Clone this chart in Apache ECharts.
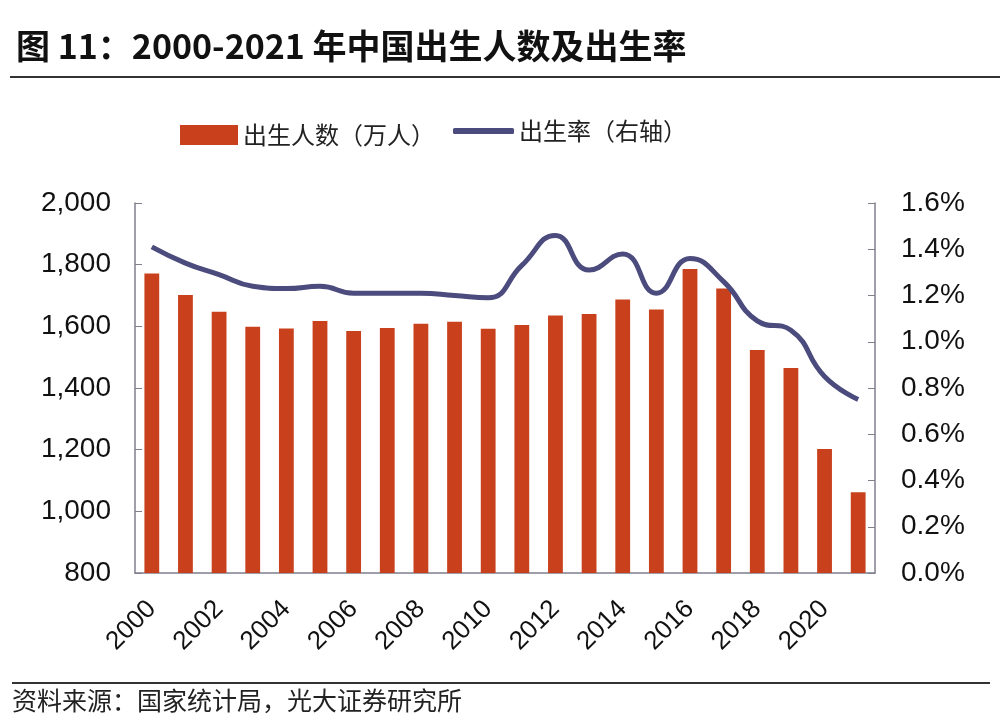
<!DOCTYPE html>
<html>
<head>
<meta charset="utf-8">
<script src="https://cdn.jsdelivr.net/npm/echarts@6/dist/echarts.min.js"></script>
<style>
  html, body { margin: 0; padding: 0; background: #fff; }
  #chart { width: 1000px; height: 724px; }
</style>
</head>
<body>
<div id="chart"></div>
<script>
// 年份
const years = ['2000', '2001', '2002', '2003', '2004', '2005', '2006', '2007', '2008', '2009', '2010',
  '2011', '2012', '2013', '2014', '2015', '2016', '2017', '2018', '2019', '2020', '2021']
// 出生人数（万人）
const births = [1771, 1702, 1647, 1599, 1593, 1617, 1585, 1595, 1608, 1615, 1592,
  1604, 1635, 1640, 1687, 1655, 1786, 1723, 1523, 1465, 1202, 1062]
// 出生率（%）
const birthRate = [1.41, 1.34, 1.29, 1.24, 1.23, 1.24, 1.21, 1.21, 1.21, 1.20, 1.19,
  1.33, 1.46, 1.31, 1.38, 1.21, 1.36, 1.26, 1.09, 1.05, 0.85, 0.75]

const font = '"Liberation Sans", Arial, "Noto Sans CJK SC", sans-serif'
const cjk = '"Noto Sans CJK SC", sans-serif'
const axisColor = '#7f7f8c'
const barColor = '#c9401d'
const lineColor = '#4b4b7d'

const chart = echarts.init(document.getElementById('chart'))
chart.setOption({
  animation: false,
  textStyle: { fontFamily: font },
  title: {
    text: '图 11：2000-2021 年中国出生人数及出生率',
    left: 11,
    top: 24,
    textStyle: { fontSize: 34, fontWeight: 'bold', color: '#111', fontFamily: cjk }
  },
  graphic: [
    { type: 'line', shape: { x1: 10, y1: 77, x2: 1000, y2: 77 }, style: { stroke: '#333', lineWidth: 2 } },
    { type: 'line', shape: { x1: 12, y1: 683, x2: 990, y2: 683 }, style: { stroke: '#333', lineWidth: 2 } },
    {
      type: 'text', left: 12, top: 688,
      style: { text: '资料来源：国家统计局，光大证券研究所', fontSize: 25, fill: '#222', fontFamily: cjk }
    }
  ],
  // 两个图例分开放，方便分别设置图标大小
  legend: [
    {
      left: 175,
      top: 118,
      itemWidth: 58,
      itemHeight: 20,
      textStyle: { fontSize: 24, color: '#222', fontFamily: cjk },
      data: [{ name: '出生人数（万人）', icon: 'rect' }]
    },
    {
      left: 448,
      top: 114,
      itemWidth: 61,
      itemHeight: 6,
      itemTextGap: 8,
      textStyle: { fontSize: 24, color: '#222', fontFamily: cjk },
      data: [{ name: '出生率（右轴）', icon: 'roundRect' }]
    }
  ],
  grid: { left: 135, right: 125, top: 203, bottom: 151 },
  xAxis: {
    type: 'category',
    data: years,
    axisLine: { lineStyle: { color: axisColor, width: 1.5 } },
    axisTick: { inside: true, interval: 1, length: 6, lineStyle: { color: axisColor } },
    axisLabel: { interval: 1, rotate: 45, fontSize: 26, color: '#111', margin: 32 }
  },
  yAxis: [
    {
      type: 'value',
      min: 800,
      max: 2000,
      interval: 200,
      splitLine: { show: false },
      axisLine: { show: true, lineStyle: { color: axisColor, width: 1.5 } },
      axisTick: { show: true, inside: true, length: 7, lineStyle: { color: axisColor } },
      axisLabel: {
        fontSize: 28, color: '#111', margin: 24,
        formatter: v => v.toLocaleString('en-US')
      }
    },
    {
      type: 'value',
      min: 0,
      max: 1.6,
      interval: 0.2,
      splitLine: { show: false },
      axisLine: { show: true, lineStyle: { color: axisColor, width: 1.5 } },
      axisTick: { show: true, inside: true, length: 7, lineStyle: { color: axisColor } },
      axisLabel: {
        fontSize: 28, color: '#111', margin: 26,
        formatter: v => v.toFixed(1) + '%'
      }
    }
  ],
  series: [
    {
      name: '出生人数（万人）',
      type: 'bar',
      data: births,
      barWidth: '44%',
      itemStyle: { color: barColor }
    },
    {
      name: '出生率（右轴）',
      type: 'line',
      yAxisIndex: 1,
      data: birthRate,
      smooth: 0.5,
      symbol: 'none',
      lineStyle: { color: lineColor, width: 5 },
      itemStyle: { color: lineColor }
    }
  ]
})
</script>
</body>
</html>
